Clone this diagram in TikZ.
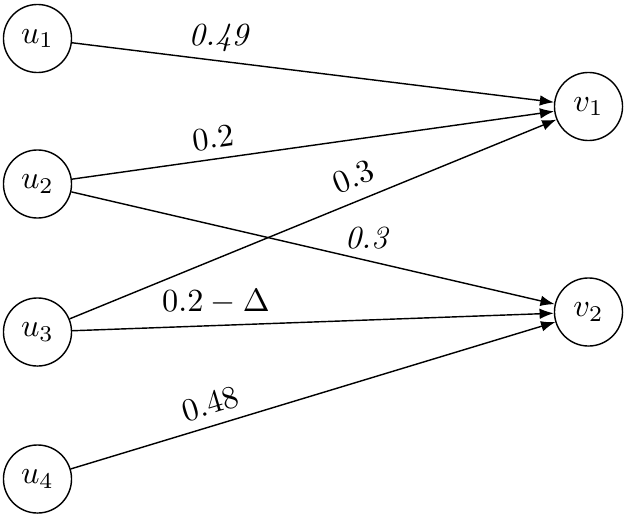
\documentclass[tikz,border=0pt]{standalone}
\usetikzlibrary{arrows.meta}
\begin{document}
\begin{tikzpicture}[x=0.31pt,y=-0.31pt,
  vert/.style={circle,draw,line width=0.44pt,minimum size=21.1pt,inner sep=0pt},
  arc/.style={-{Latex[length=4.4pt,width=3.3pt]},line width=0.44pt},
  lab/.style={inner sep=0pt}]
\useasboundingbox (0,0) rectangle (626,516);
\node[vert] (u1) at (37.5,38.5) {$u_1$};
\node[vert] (u2) at (37.5,184) {$u_2$};
\node[vert] (u3) at (37.5,332) {$u_3$};
\node[vert] (u4) at (37.5,479) {$u_4$};
\node[vert] (v1) at (588.5,106.5) {$v_1$};
\node[vert] (v2) at (588.5,312) {$v_2$};
\draw[arc] (u1) -- (v1);
\draw[arc] (u2) -- (v1);
\draw[arc] (u3) -- (v1);
\draw[arc] (u2) -- (v2);
\draw[arc] (u3) -- (v2);
\draw[arc] (u4) -- (v2);
\node[lab] (l1) at (219,38) {\textit{0.49}};
\node[lab,rotate=7.7] (l2) at (213,138) {$0.2$};
\node[lab,rotate=22.3] (l3) at (353,177) {$0.3$};
\node[lab] (l4) at (367,238) {\textit{0.3}};
\node[lab] (l5) at (216,302) {$0.2-\Delta$};
\node[lab,rotate=16.9] (l6) at (210,404) {$0.48$};
\end{tikzpicture}
\end{document}
